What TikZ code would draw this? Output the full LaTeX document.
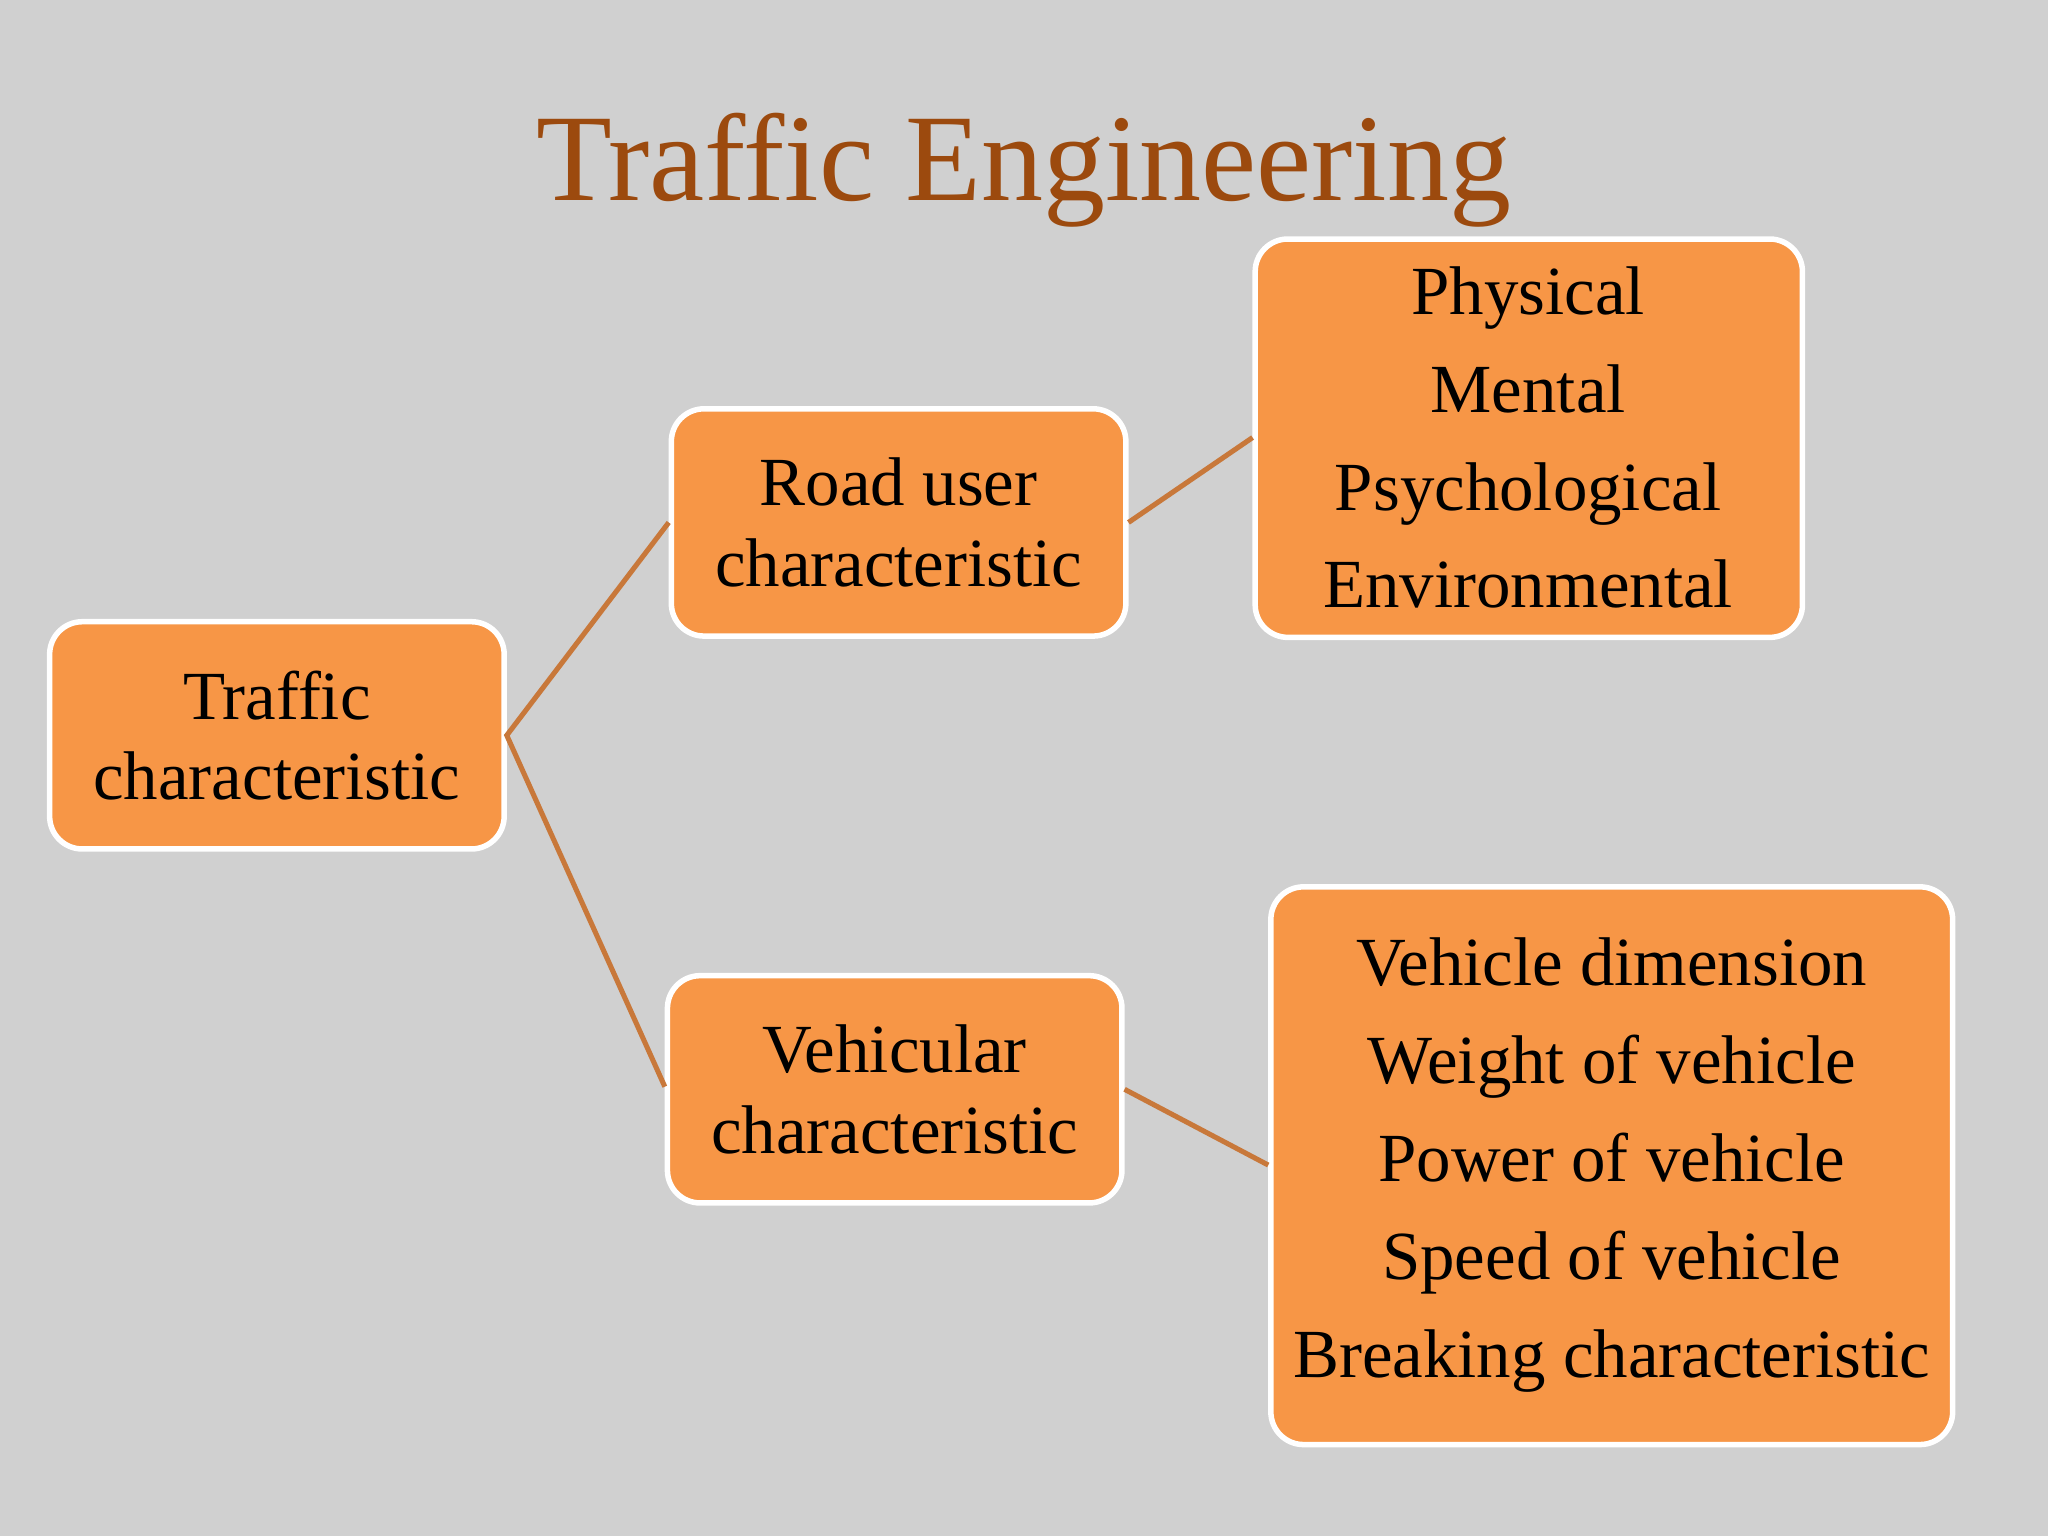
\documentclass[tikz,border=0pt]{standalone}
\usepackage{fontspec}
\setmainfont{Liberation Serif}
\begin{document}
\begin{tikzpicture}[x=0.01cm,y=-0.01cm,
 box/.style={draw=white,line width=1.2pt,fill=boxor,rounded corners=0.25cm},
 txt/.style={align=center,font=\fontsize{15}{17.5}\selectfont},
 lst/.style={align=center,font=\fontsize{15}{21.3}\selectfont},
 con/.style={draw=lineor,line width=1.1pt}]
\definecolor{boxor}{HTML}{F79646}
\definecolor{lineor}{HTML}{C8783A}
\definecolor{titc}{HTML}{9C4A0E}
\fill[fill={rgb,255:red,208;green,208;blue,208}] (0,0) rectangle (1568,1176);
\useasboundingbox (0,0) rectangle (1568,1176);
\node[font=\fontsize{27}{30}\selectfont,text=titc] (title) at (784,130) {Traffic Engineering};
\draw[box] (38,476) rectangle (386,650); \node[txt] (tc) at (212,563) {Traffic\\characteristic};
\draw[box] (514,313) rectangle (862,487); \node[txt] (ru) at (688,400) {Road user\\characteristic};
\draw[box] (511,747) rectangle (859,921); \node[txt] (vc) at (685,834) {Vehicular\\characteristic};
\draw[box] (961,183) rectangle (1380,488); \node[lst] (ph) at (1170,335) {Physical\\Mental\\Psychological\\Environmental};
\draw[box] (973,679) rectangle (1495,1106); \node[lst] (vd) at (1234,892) {Vehicle dimension\\Weight of vehicle\\Power of vehicle\\Speed of vehicle\\Breaking characteristic};
\coordinate (a) at (388,563); \coordinate (b) at (512,400); \coordinate (c) at (509,832);
\coordinate (d) at (864,400); \coordinate (e) at (959,335); \coordinate (f) at (861,834); \coordinate (g) at (971,892);
\draw[con] (b) -- (a) -- (c); \draw[con] (d) -- (e); \draw[con] (f) -- (g);
\end{tikzpicture}
\end{document}
